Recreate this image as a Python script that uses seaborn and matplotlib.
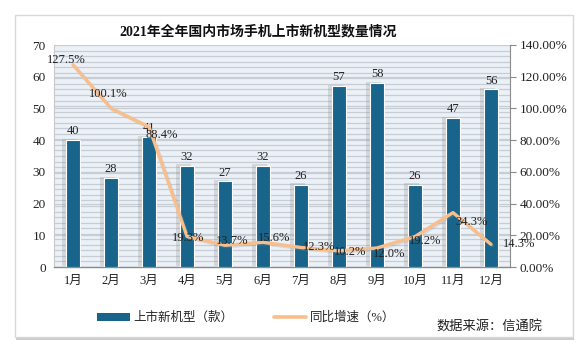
import numpy as np
import matplotlib
matplotlib.use("Agg")
import matplotlib.pyplot as plt
import matplotlib.patheffects as pe
from matplotlib.patches import Rectangle
from matplotlib.lines import Line2D
from matplotlib.ticker import FuncFormatter, MultipleLocator
import seaborn as sns

# ---- data ----
months = ['1月', '2月', '3月', '4月', '5月', '6月', '7月', '8月', '9月', '10月', '11月', '12月']
new_models = [40, 28, 41, 32, 27, 32, 26, 57, 58, 26, 47, 56]
yoy_growth = [127.5, 100.1, 88.4, 19.3, 13.7, 15.6, 12.3, 10.2, 12.0, 19.2, 34.3, 14.3]
left_ticks = [0, 10, 20, 30, 40, 50, 60, 70]
right_ticks = [0, 20, 40, 60, 80, 100, 120, 140]
title = '2021年全年国内市场手机上市新机型数量情况'
bar_name = '上市新机型（款）'
line_name = '同比增速（%）'
source = '数据来源：信通院'

# label offsets in pixels (style only)
line_label_offsets = [(-7, 5), (-3, 14), (13, -8), (1, -2), (7, 4), (11, 4),
                      (18, 0), (11, -1), (12, -6), (10, -4), (19, -9), (28, 0)]

BAR_COLOR = '#19648A'
LINE_COLOR = '#F8BE8C'
FONT = ['Liberation Serif', 'Noto Sans CJK SC', 'DejaVu Sans']

sns.set_theme(style='white')
plt.rcParams['font.family'] = FONT

fig = plt.figure(figsize=(5.86, 3.51), dpi=100)
fig.patch.set_facecolor('white')

# card with shadow
card = Rectangle((15 / 586, 14 / 351), 558 / 586, 322 / 351, transform=fig.transFigure,
                 facecolor='white', edgecolor='#D8D8D8', linewidth=1.0, zorder=-10)
card.set_path_effects([pe.SimplePatchShadow(offset=(1, -2), shadow_rgbFace='#9a9a9a', alpha=0.5),
                       pe.Normal()])
fig.patches.append(card)

ax = fig.add_axes([54 / 586, 84 / 351, 456 / 586, 222 / 351])
ax.set_zorder(1)
ax.set_facecolor('#EBF1F7')

df_x = np.arange(len(months))
sns.barplot(x=months, y=new_models, ax=ax, color=BAR_COLOR, width=0.37,
            edgecolor='white', linewidth=0.8, saturation=1, zorder=3)
for p in ax.patches:
    p.set_path_effects([pe.SimplePatchShadow(offset=(-2.5, 1), shadow_rgbFace='#8a8a8a', alpha=0.25),
                        pe.Normal()])
for c in ax.containers:
    ax.bar_label(c, padding=2, fontsize=9, color='#222222')

ax.set_xlim(-0.5, len(months) - 0.5)
ax.set_ylim(0, 70)
ax.set_yticks(left_ticks)
ax.set_yticklabels([str(t) for t in left_ticks])
ax.yaxis.set_minor_locator(MultipleLocator(1.75))
ax.grid(True, axis='y', which='both', color='#C6CDD5', linewidth=0.9, zorder=0)
ax.set_axisbelow(True)
ax.tick_params(axis='y', which='both', length=0, labelsize=9.5, colors='#222222', pad=6)
ax.tick_params(axis='x', length=0, labelsize=9, colors='#222222', pad=6)
ax.set_xlabel('')
ax.set_ylabel('')
for s in ['top', 'right']:
    ax.spines[s].set_visible(False)
ax.spines['left'].set_color('#C8C8C8')
ax.spines['left'].set_linewidth(0.8)
ax.spines['bottom'].set_color('#8A8A8A')
ax.spines['bottom'].set_linewidth(1.0)

ax2 = ax.twinx()
ax2.set_zorder(2)
ax2.patch.set_visible(False)
sns.lineplot(x=df_x, y=yoy_growth, ax=ax2, color=LINE_COLOR, linewidth=2.4, zorder=4,
             path_effects=[pe.SimpleLineShadow(offset=(1, -1), shadow_color='#999999', alpha=0.25),
                           pe.Normal()])
ax2.set_ylim(0, 140)
ax2.set_yticks(right_ticks)
ax2.yaxis.set_major_formatter(FuncFormatter(lambda v, _: f'{v:.2f}%'))
ax2.tick_params(axis='y', length=4, width=0.8, color='#8A8A8A', labelsize=9.5,
                labelcolor='#222222', pad=3)
for s in ['top', 'left', 'bottom']:
    ax2.spines[s].set_visible(False)
ax2.spines['right'].set_color('#8A8A8A')
ax2.spines['right'].set_linewidth(0.8)
ax2.set_ylabel('')
ax2.grid(False)

for i, v in enumerate(yoy_growth):
    dx, dy = line_label_offsets[i]
    ax2.annotate(f'{v:.1f}%', (df_x[i], v), xytext=(dx, dy), textcoords='offset pixels',
                 ha='center', va='center', fontsize=9, color='#222222', zorder=6)

fig.text(258 / 586, 1 - 31 / 351, title, ha='center', va='center', fontsize=10,
         fontweight='bold', family=FONT, color='#111111')

handles = [Rectangle((0, 0), 1, 1, facecolor=BAR_COLOR, edgecolor='none'),
           Line2D([0], [0], color=LINE_COLOR, linewidth=2.6)]
fig.legend(handles, [bar_name, line_name], loc='center left',
           bbox_to_anchor=(86 / 586, 1 - 318 / 351), ncol=2, frameon=False,
           fontsize=9, handlelength=2.6, handleheight=0.55, columnspacing=3.2,
           handletextpad=0.3, prop={'family': FONT, 'size': 9})

fig.text(542 / 586, 1 - 327 / 351, source, ha='right', va='center', fontsize=9.5,
         family=FONT, color='#222222')

fig.savefig('out.png', dpi=100, facecolor=fig.get_facecolor())
